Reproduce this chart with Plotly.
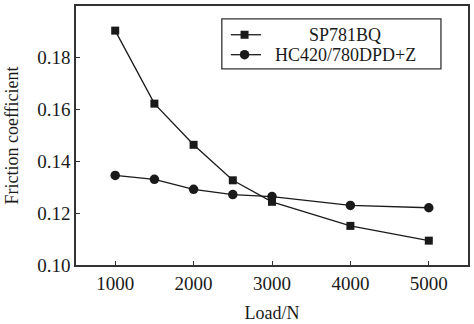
import plotly.graph_objects as go

load = [1000, 1500, 2000, 2500, 3000, 4000, 5000]
sp781bq = [0.1905, 0.1623, 0.1464, 0.1327, 0.1244, 0.1151, 0.1094]
hc420 = [0.1346, 0.1331, 0.1292, 0.1272, 0.1264, 0.1230, 0.1221]
series_names = ["SP781BQ", "HC420/780DPD+Z"]

x_ticks = [1000, 2000, 3000, 4000, 5000]
y_ticks = [0.10, 0.12, 0.14, 0.16, 0.18, 0.20]

serif = "Liberation Serif, Times New Roman, serif"
ink = "#1a1a1a"
frame = "#333333"

symbols = ["square", "circle"]
sizes = [8, 9.5]

fig = go.Figure()
for name, vals, sym, sz in zip(series_names, [sp781bq, hc420], symbols, sizes):
    fig.add_trace(go.Scatter(
        x=load, y=vals, name=name, mode="lines+markers",
        line=dict(color=ink, width=1.3),
        marker=dict(symbol=sym, size=sz, color=ink),
        showlegend=False,
    ))

# Boxed legend drawn in plot-area fractions (overlay axes 0..1)
box_x0, box_x1, box_y0, box_y1 = 0.372, 0.931, 0.757, 0.950
row_y = [0.889, 0.812]
line_x0, line_x1, mark_x, text_x = 0.395, 0.472, 0.430, 0.687

fig.add_shape(type="rect", xref="x2", yref="y2",
              x0=box_x0, x1=box_x1, y0=box_y0, y1=box_y1,
              line=dict(color=frame, width=1.3), fillcolor="white", layer="below")
for name, sym, sz, ry in zip(series_names, symbols, sizes, row_y):
    fig.add_trace(go.Scatter(
        x=[line_x0, mark_x, line_x1], y=[ry, ry, ry], xaxis="x2", yaxis="y2",
        mode="lines", line=dict(color=ink, width=1.3),
        showlegend=False, hoverinfo="skip",
    ))
    fig.add_trace(go.Scatter(
        x=[mark_x], y=[ry], xaxis="x2", yaxis="y2", mode="markers",
        marker=dict(symbol=sym, size=sz, color=ink),
        showlegend=False, hoverinfo="skip",
    ))
    fig.add_annotation(x=text_x, y=ry, xref="x2", yref="y2", text=name,
                       showarrow=False, xanchor="center", yanchor="middle",
                       font=dict(family=serif, size=18, color=ink))

axis_common = dict(
    showgrid=False, zeroline=False, mirror=True, showline=True,
    linecolor=frame, linewidth=1.6,
    ticks="inside", ticklen=4, tickwidth=1, tickcolor=frame,
    tickfont=dict(family=serif, size=19, color=ink),
)

fig.update_layout(
    xaxis=dict(range=[500, 5500], tickvals=x_ticks,
               title=dict(text="Load/N", font=dict(family=serif, size=18, color=ink), standoff=14),
               **axis_common),
    yaxis=dict(range=[0.10, 0.20], tickvals=y_ticks, tickformat=".2f",
               title=dict(text="Friction coefficient", font=dict(family=serif, size=18, color=ink), standoff=14),
               **axis_common),
    xaxis2=dict(overlaying="x", range=[0, 1], visible=False, fixedrange=True),
    yaxis2=dict(overlaying="y", range=[0, 1], visible=False, fixedrange=True),
    width=474, height=324,
    margin=dict(l=76, r=4, t=6, b=57),
    paper_bgcolor="white", plot_bgcolor="white",
    showlegend=False,
)

fig.write_html("out.html")
